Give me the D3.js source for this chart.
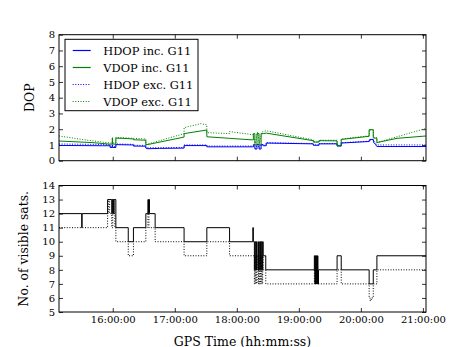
<!DOCTYPE html>
<html><head><meta charset="utf-8">
<script src="https://cdn.jsdelivr.net/npm/d3@7"></script>
<style>
body{margin:0;background:#fff;}
text{font-family:"DejaVu Serif",serif;fill:#000;}
</style></head>
<body><svg id="c" width="474" height="347"></svg>
<script>
// ---------------- DATA ----------------
const xDomain = ["15:08:00", "21:03:00"];
const hourTicks = ["16:00:00","17:00:00","18:00:00","19:00:00","20:00:00","21:00:00"];
const dopTicks = [0,1,2,3,4,5,6,7,8];
const satTicks = [5,6,7,8,9,10,11,12,13,14];
const legendLabels = ["HDOP inc. G11","VDOP inc. G11","HDOP exc. G11","VDOP exc. G11"];

// HDOP including G11 (blue, solid)
const hdopInc = [
["15:08:00",0.97],["15:50:00",0.95],["15:57:30",0.95],["15:57:30",0.84],["15:59:30",0.84],["15:59:30",1.0],
["15:59:50",1.0],["15:59:50",0.84],["16:03:00",0.84],["16:03:00",1.02],["16:20:00",1.0],["16:20:00",0.93],
["16:32:00",0.92],["16:32:00",0.8],["16:33:00",0.76],["16:45:00",0.78],["17:09:00",0.8],["17:09:00",0.96],
["17:31:00",0.96],["17:31:00",0.88],["17:53:00",0.88],["18:15:30",0.88],
["18:16:00",0.88],["18:16:00",1.02],["18:17:30",1.02],["18:17:30",0.74],["18:19:30",0.74],["18:19:30",1.02],
["18:21:30",1.02],["18:21:30",0.74],["18:23:30",0.74],["18:23:30",1.02],["18:25:30",1.02],["18:25:30",0.95],
["18:28:30",0.95],["18:28:30",1.12],["19:14:00",1.07],["19:14:00",0.98],["19:19:30",0.98],["19:19:30",1.07],
["19:37:00",1.07],["19:37:00",0.93],["19:41:00",0.93],["19:41:00",1.12],["20:08:00",1.22],["20:08:30",1.35],
["20:12:00",1.35],["20:12:30",1.15],["20:14:00",1.05],["20:15:30",0.9],["21:03:00",0.9]
];
// VDOP including G11 (green, solid)
const vdopInc = [
["15:08:00",1.25],["15:40:00",1.15],["15:57:30",1.05],["15:59:30",1.05],["15:59:30",1.45],["15:59:50",1.45],
["15:59:50",1.05],["16:03:00",1.05],["16:03:00",1.43],["16:10:00",1.42],["16:20:00",1.38],["16:20:00",1.33],
["16:32:00",1.3],["16:32:00",1.0],["17:09:00",1.5],["17:09:00",1.72],["17:31:00",1.95],["17:31:00",1.52],
["17:53:00",1.42],["18:15:30",1.32],
["18:16:00",1.32],["18:16:00",1.72],["18:17:30",1.72],["18:17:30",1.0],["18:19:30",1.0],["18:19:30",1.72],
["18:21:30",1.72],["18:21:30",1.0],["18:23:30",1.0],["18:23:30",1.72],["18:25:30",1.72],
["18:28:30",1.75],["19:14:00",1.27],["19:14:00",1.18],["19:19:30",1.18],["19:19:30",1.27],["19:37:00",1.26],
["19:37:00",0.97],["19:41:00",0.97],["19:41:00",1.35],["20:08:00",1.55],["20:08:00",1.97],["20:12:00",1.97],
["20:12:00",1.45],["20:15:30",1.42],["20:15:30",1.15],["20:35:00",1.42],["21:03:00",1.57]
];
// HDOP excluding G11 (blue, dotted)
const hdopExc = [
["15:08:00",1.06],["15:50:00",1.03],["15:57:30",1.02],["15:57:30",0.9],["16:03:00",0.9],["16:03:00",1.06],
["16:20:00",1.04],["16:20:00",0.98],["16:32:00",0.97],["16:32:00",0.82],["17:09:00",0.84],["17:09:00",1.0],
["17:31:00",1.0],["17:31:00",0.93],["17:53:00",0.93],["18:15:30",0.93],
["18:16:00",0.93],["18:18:00",0.78],["18:20:00",1.05],["18:22:00",0.78],["18:24:00",1.05],["18:25:30",0.98],
["18:28:30",0.98],["18:28:30",1.14],["19:14:00",1.09],["19:14:00",1.0],["19:19:30",1.0],["19:19:30",1.09],
["19:37:00",1.09],["19:37:00",0.95],["19:41:00",0.95],["19:41:00",1.14],["20:08:00",1.24],["20:08:30",1.32],
["20:12:00",1.32],["20:15:30",1.0],["21:03:00",1.0]
];
// VDOP excluding G11 (green, dotted)
const vdopExc = [
["15:08:00",1.57],["15:30:00",1.35],["15:57:30",1.12],["16:03:00",1.12],["16:03:00",1.48],["16:20:00",1.42],
["16:32:00",1.38],["16:32:00",1.02],["17:09:00",1.72],["17:09:00",2.1],["17:25:00",2.35],["17:31:00",2.28],
["17:31:00",1.78],["17:53:00",1.72],["17:53:00",1.85],["18:15:30",1.65],
["18:16:00",1.65],["18:18:00",1.1],["18:20:00",1.8],["18:22:00",1.1],["18:24:00",1.8],["18:25:30",1.85],
["18:28:30",1.9],["19:14:00",1.32],["19:14:00",1.2],["19:19:30",1.2],["19:19:30",1.3],["19:37:00",1.3],
["19:37:00",0.97],["19:41:00",0.97],["19:41:00",1.38],["20:08:00",1.58],["20:08:00",1.95],["20:12:00",1.95],
["20:12:00",1.5],["20:15:30",1.45],["20:15:30",1.15],["21:03:00",2.05]
];

// Number of visible satellites including G11 (black, solid, step)
const satsInc = [
["15:08:00",12],["15:30:00",11],["15:30:20",12],["15:55:00",13],["15:59:00",12],["15:59:40",13],
["16:00:40",12],["16:01:20",13],["16:03:00",11],["16:15:00",10],["16:20:00",11],["16:32:00",12],
["16:34:00",13],["16:34:30",12],["16:35:00",13],["16:35:30",12],["16:41:00",11],["17:09:00",10],
["17:31:00",11],["17:53:00",10],["18:15:30",11],["18:16:00",10],["18:17:00",8],["18:17:40",10],
["18:18:20",8],["18:19:00",10],["18:19:40",9],["18:20:20",8],["18:21:00",10],["18:21:40",8],
["18:22:20",10],["18:23:00",8],["18:23:40",10],["18:24:20",8],["18:25:00",10],["18:25:30",9],
["18:28:00",8],["19:15:00",9],["19:15:30",7],["19:16:00",9],["19:16:30",7],["19:17:00",9],
["19:17:30",7],["19:18:00",9],["19:18:30",7],["19:19:00",8],["19:37:00",9],["19:41:00",8],
["20:08:00",7],["20:12:00",8],["20:15:30",9],["21:03:00",9]
];
// Number of visible satellites excluding G11 (black, dotted, step)
const satsExc = [
["15:08:00",11],["15:55:00",12],["15:56:00",13],["15:57:00",12],["15:59:00",11],["16:00:00",13],
["16:01:00",12],["16:02:00",11],["16:03:00",10],["16:15:00",9],["16:20:00",10],["16:32:00",11],
["16:34:00",12],["16:35:00",11],["16:41:00",10],["17:09:00",9],["17:31:00",10],["17:53:00",9],
["18:17:00",7],["18:17:40",9],["18:18:20",7],["18:19:00",9],["18:19:40",8],["18:20:20",7],
["18:21:00",9],["18:21:40",7],["18:22:20",9],["18:23:00",7],["18:23:40",9],["18:24:20",7],
["18:25:00",9],["18:25:30",8],["18:28:00",7],["19:15:00",8],["19:15:40",7],["19:16:20",8],
["19:17:00",7],["19:17:40",8],["19:18:20",7],["19:37:00",8],["19:41:00",7],["20:08:00",6],
["20:09:00",5.8],["20:10:00",6],["20:12:00",7],["20:15:30",8],["21:03:00",8]
];

// ---------------- DRAW ----------------
const parseT = d3.timeParse("%Y-%m-%d %H:%M:%S");
const T = s => parseT("2013-01-01 " + s);

const svg = d3.select("#c");
const L = 59, R = 426;
const top1 = 34.7, bot1 = 160.7;
const top2 = 185.5, bot2 = 312;

const x = d3.scaleTime().domain(xDomain.map(T)).range([L, R]);
const yD = d3.scaleLinear().domain([0, 8]).range([bot1, top1]);
const yS = d3.scaleLinear().domain([5, 14]).range([bot2, top2]);
const tickDates = hourTicks.map(T);
const fmt = d3.timeFormat("%H:%M:%S");

function frame(yScale, y0, y1, ticksY, showX) {
  const g = svg.append("g");
  g.append("g").attr("transform", `translate(${L},0)`)
    .call(d3.axisLeft(yScale).tickValues(ticksY).tickSizeInner(-4).tickSizeOuter(0).tickPadding(4).tickFormat(d3.format("d")));
  g.append("g").attr("transform", `translate(${R},0)`)
    .call(d3.axisRight(yScale).tickValues(ticksY).tickSizeInner(-4).tickSizeOuter(0).tickFormat(""));
  g.append("g").attr("transform", `translate(0,${y0})`)
    .call(d3.axisBottom(x).tickValues(tickDates).tickSizeInner(-4).tickSizeOuter(0).tickPadding(3.5).tickFormat(showX ? fmt : ""));
  g.append("g").attr("transform", `translate(0,${y1})`)
    .call(d3.axisTop(x).tickValues(tickDates).tickSizeInner(-4).tickSizeOuter(0).tickFormat(""));
  g.selectAll(".domain").remove();
  g.selectAll(".tick line").attr("stroke", "#000").attr("stroke-width", 0.8);
  g.selectAll(".tick text").attr("font-size", 10).attr("font-family", "DejaVu Serif").attr("fill", "#000");
  return g;
}

const g1 = frame(yD, bot1, top1, dopTicks, false);
const g2 = frame(yS, bot2, top2, satTicks, true);

// clip
const defs = svg.append("defs");
defs.append("clipPath").attr("id", "cp1").append("rect").attr("x", L).attr("y", top1).attr("width", R - L).attr("height", bot1 - top1);
defs.append("clipPath").attr("id", "cp2").append("rect").attr("x", L).attr("y", top2).attr("width", R - L).attr("height", bot2 - top2);

const lineD = d3.line().x(d => x(T(d[0]))).y(d => yD(d[1]));
const lineS = d3.line().x(d => x(T(d[0]))).y(d => yS(d[1])).curve(d3.curveStepAfter);
const dotted = "1,1.6";

const p1 = svg.append("g").attr("clip-path", "url(#cp1)");
p1.append("path").datum(hdopExc).attr("d", lineD).attr("fill", "none").attr("stroke", "#0000ff").attr("stroke-width", 1).attr("stroke-dasharray", dotted);
p1.append("path").datum(vdopExc).attr("d", lineD).attr("fill", "none").attr("stroke", "#008000").attr("stroke-width", 1).attr("stroke-dasharray", dotted);
p1.append("path").datum(hdopInc).attr("d", lineD).attr("fill", "none").attr("stroke", "#0000ff").attr("stroke-width", 1);
p1.append("path").datum(vdopInc).attr("d", lineD).attr("fill", "none").attr("stroke", "#008000").attr("stroke-width", 1);

const p2 = svg.append("g").attr("clip-path", "url(#cp2)");
p2.append("path").datum(satsExc).attr("d", lineS).attr("fill", "none").attr("stroke", "#000").attr("stroke-width", 1).attr("stroke-dasharray", dotted);
p2.append("path").datum(satsInc).attr("d", lineS).attr("fill", "none").attr("stroke", "#000").attr("stroke-width", 1);

// frames
[[top1, bot1], [top2, bot2]].forEach(([a, b]) => {
  svg.append("rect").attr("x", L).attr("y", a).attr("width", R - L).attr("height", b - a)
    .attr("fill", "none").attr("stroke", "#000").attr("stroke-width", 1);
});

// legend
const legColors = ["#0000ff", "#008000", "#0000ff", "#008000"];
const legDash = ["none", "none", dotted, dotted];
const lg = svg.append("g");
lg.append("rect").attr("x", 65).attr("y", 39.3).attr("width", 133).attr("height", 71.4)
  .attr("fill", "#fff").attr("stroke", "#000").attr("stroke-width", 1);
const rowY = d3.scaleLinear().domain([0, 3]).range([50.5, 101.5]);
legendLabels.forEach((lab, i) => {
  lg.append("line").attr("x1", 72.7).attr("x2", 90.7).attr("y1", rowY(i)).attr("y2", rowY(i))
    .attr("stroke", legColors[i]).attr("stroke-width", 1.2).attr("stroke-dasharray", legDash[i]);
  lg.append("text").attr("x", 103.3).attr("y", rowY(i)).attr("dy", "0.36em").attr("font-size", 11.4).text(lab);
});

// axis labels
svg.append("text").attr("transform", `translate(33.5,${(top1 + bot1) / 2}) rotate(-90)`)
  .attr("text-anchor", "middle").attr("font-size", 12.4).text("DOP");
svg.append("text").attr("transform", `translate(28,${(top2 + bot2) / 2}) rotate(-90)`)
  .attr("text-anchor", "middle").attr("font-size", 12.4).text("No. of visible sats.");
svg.append("text").attr("x", (L + R) / 2).attr("y", 345.5)
  .attr("text-anchor", "middle").attr("font-size", 12.5).text("GPS Time (hh:mm:ss)");
</script></body></html>
